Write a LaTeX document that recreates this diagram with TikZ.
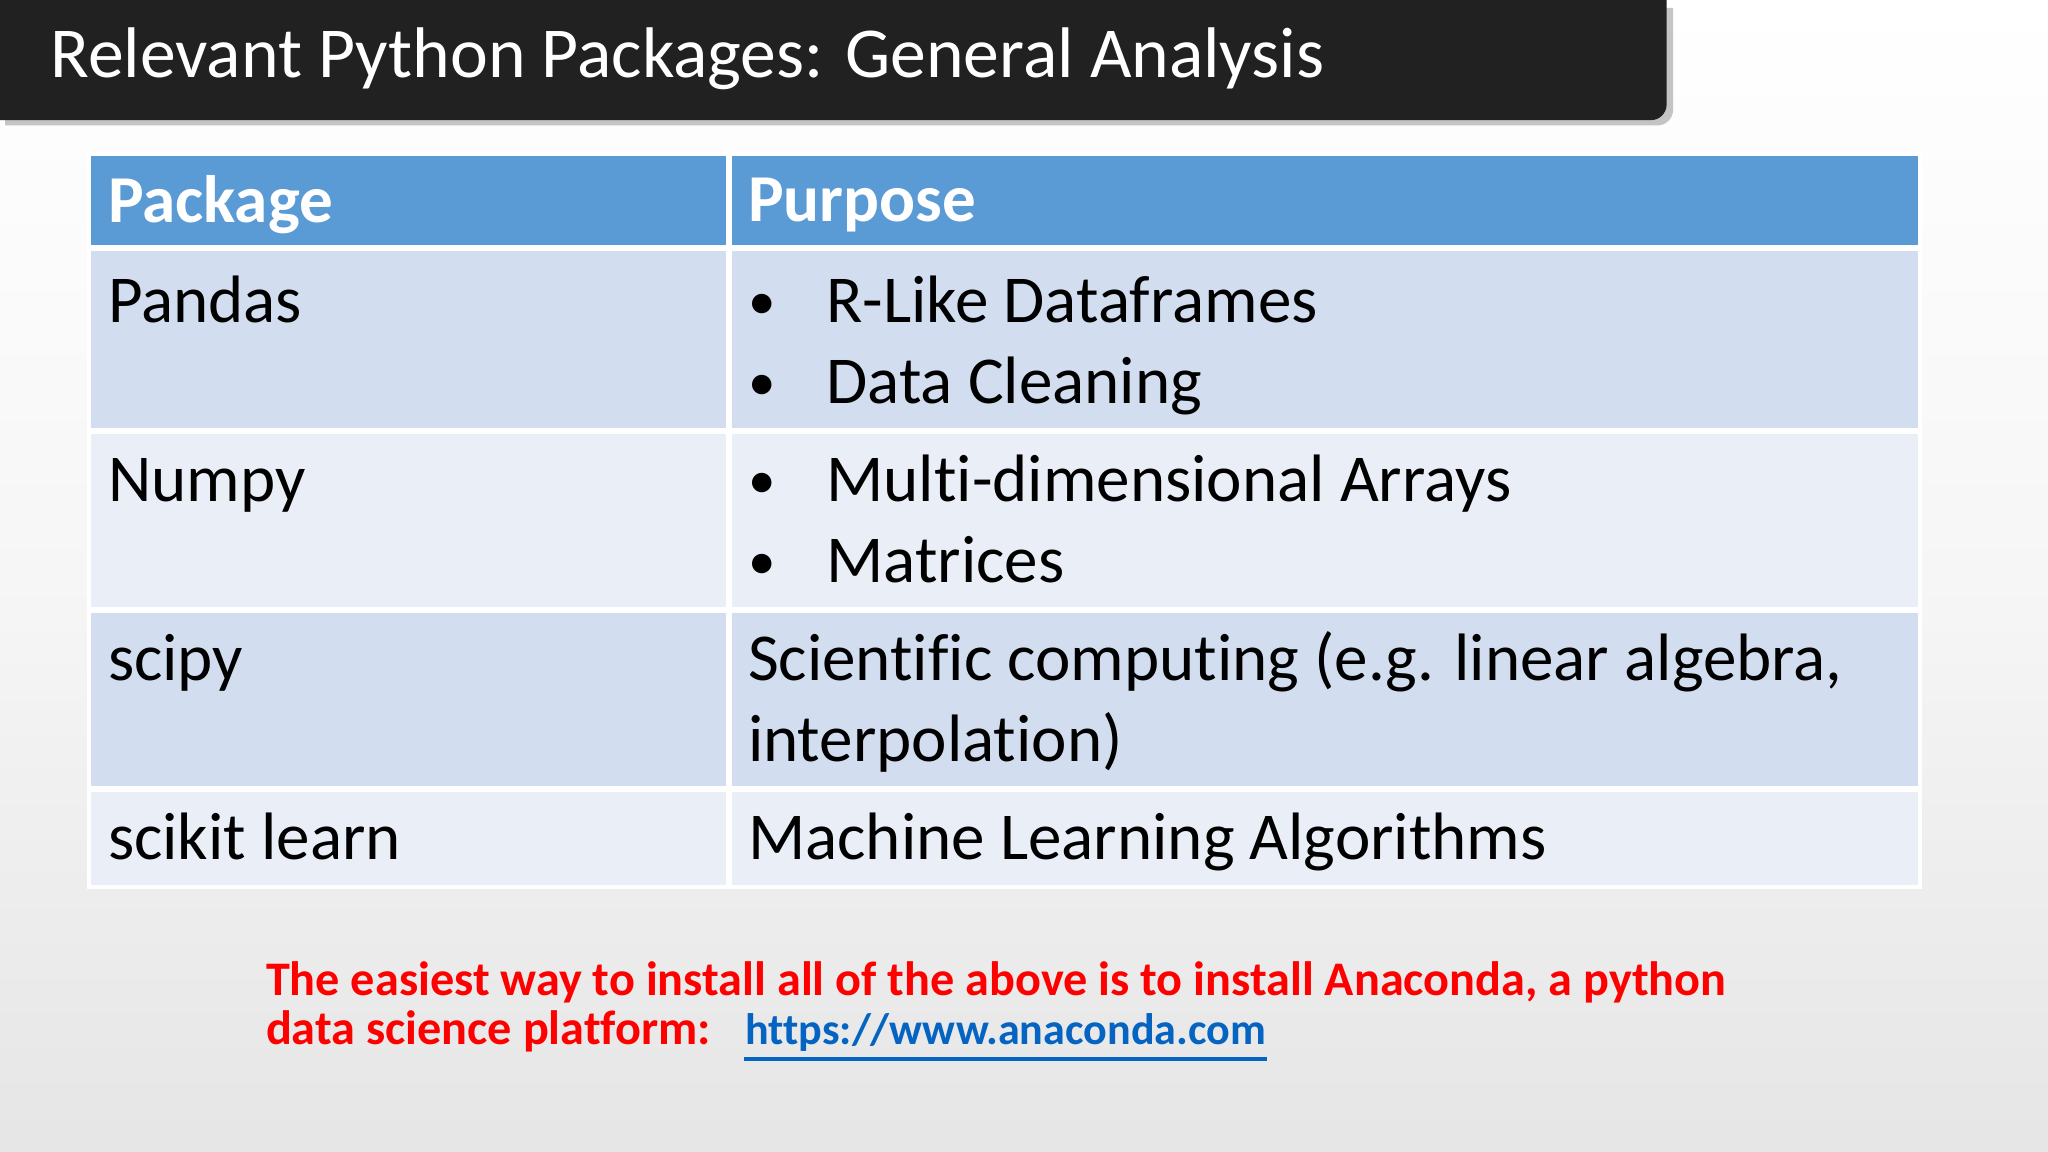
\documentclass[tikz,border=0pt]{standalone}
\usepackage{fontspec}
\setmainfont{Carlito}[Ligatures=NoCommon]
\definecolor{hdr}{HTML}{5B9BD5}
\definecolor{rowa}{HTML}{D2DEEF}
\definecolor{rowb}{HTML}{EAEFF7}
\definecolor{lnk}{HTML}{0563C1}
\begin{document}
\begin{tikzpicture}[x=0.01cm,y=-0.01cm]
\shade[top color=white,bottom color=white!80!gray,middle color=white!93!gray] (0,0) rectangle (1568,882);
\useasboundingbox (0,0) rectangle (1568,882);
% title
\fill[black!45,opacity=0.5] (4,6) -- (1281,6) -- (1281,84) arc[start angle=0,end angle=90,radius=12] -- (4,96) -- cycle;
\fill[black!87] (0,0) -- (1276,0) -- (1276,80) arc[start angle=0,end angle=90,radius=12] -- (0,92) -- cycle;
\node[anchor=west,text=white,inner sep=0pt,font=\fontsize{15.6pt}{20pt}\selectfont] (title) at (38,45) {Relevant Python Packages: General Analysis};
% table
\fill[hdr] (68,118) rectangle (1470,190);
\fill[rowa] (68,190) rectangle (1470,330);
\fill[rowb] (68,330) rectangle (1470,467);
\fill[rowa] (68,467) rectangle (1470,604);
\fill[rowb] (68,604) rectangle (1470,679);
\draw[white,line width=1.2pt] (68,190)--(1470,190) (68,330)--(1470,330) (68,467)--(1470,467) (68,604)--(1470,604) (558,118)--(558,679);
\draw[white,line width=1pt] (68,118) rectangle (1470,679);
\tikzset{t/.style={anchor=base west,inner sep=0pt,font=\fontsize{14.6pt}{17pt}\selectfont},
 hd/.style={anchor=west,inner sep=0pt,font=\fontsize{14.6pt}{17pt}\selectfont\bfseries,text=white},
 bl/.style={anchor=base west,inner sep=0pt,font=\fontsize{12pt}{14pt}\selectfont}}
\node[hd] (h1) at (82,157) {Package};
\node[hd] (h2) at (572,157) {Purpose};
\node[t] (p1) at (82,247) {Pandas};
\node[t] (p2) at (82,384) {Numpy};
\node[t] (p3) at (82,521) {scipy};
\node[t] (p4) at (82,658) {scikit learn};
\node[bl] (b1) at (572,245) {•}; \node[t] (q1) at (632,247) {R-Like Dataframes};
\node[bl] (b2) at (572,307) {•}; \node[t] (q2) at (632,309) {Data Cleaning};
\node[bl] (b3) at (572,382) {•}; \node[t] (q3) at (632,384) {Multi-dimensional Arrays};
\node[bl] (b4) at (572,444) {•}; \node[t] (q4) at (632,446) {Matrices};
\node[t] (q5) at (572,521) {Scientific computing (e.g. linear algebra,};
\node[t] (q6) at (572,583) {interpolation)};
\node[t] (q7) at (572,658) {Machine Learning Algorithms};
% footer
\tikzset{r/.style={anchor=base west,inner sep=0pt,font=\fontsize{10.5pt}{12pt}\selectfont\bfseries,text=red}}
\node[r] (f1) at (203,762) {The easiest way to install all of the above is to install Anaconda, a python};
\node[r] (f2) at (203,800) {data science platform:};
\node[anchor=base west,inner sep=0pt,font=\fontsize{9.6pt}{12pt}\selectfont\bfseries,text=lnk] (url) at (570,800) {https://www.anaconda.com};
\draw[lnk,line width=0.8pt] ([yshift=-3pt]url.base west) -- ([yshift=-3pt]url.base east);
\end{tikzpicture}
\end{document}
